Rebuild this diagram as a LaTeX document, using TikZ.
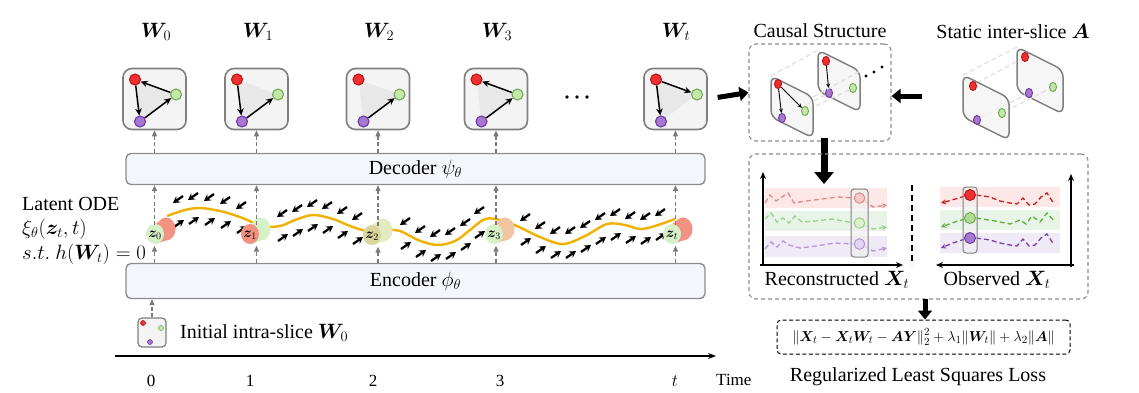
\documentclass[tikz,border=0pt]{standalone}
\usepackage{amsmath}
\usepackage{bm}
\usepackage{fontspec}
\setmainfont{Liberation Serif}
\usetikzlibrary{arrows.meta,shapes.geometric}
\definecolor{boxgray}{HTML}{7F7F7F}
\definecolor{boxfill}{HTML}{F4F4F4}
\definecolor{trifill}{HTML}{E8E8E8}
\definecolor{nred}{HTML}{F03030}
\definecolor{nredd}{HTML}{B81818}
\definecolor{ngreen}{HTML}{C6E6AE}
\definecolor{ngreend}{HTML}{6EAE4E}
\definecolor{npurple}{HTML}{A678D2}
\definecolor{npurpled}{HTML}{6E3C9E}
\definecolor{arrowgray}{HTML}{7A7A7A}
\definecolor{codergray}{HTML}{8C8C8C}
\definecolor{coderfill}{HTML}{F3F7FB}
\definecolor{curvecol}{HTML}{F0B000}
\definecolor{zgreen}{HTML}{D6F1C8}
\definecolor{zsal}{HTML}{F29282}
\definecolor{zkhaki}{HTML}{D9D59B}
\definecolor{zlime}{HTML}{E4EBC0}
\definecolor{zpeach}{HTML}{F3C4A0}
\definecolor{bandr}{HTML}{FDE7E7}
\definecolor{bandg}{HTML}{E7F4E7}
\definecolor{bandp}{HTML}{F0E9F6}
\definecolor{lr}{HTML}{E08A8A}
\definecolor{lg}{HTML}{9CCF8A}
\definecolor{lp}{HTML}{B594D6}
\definecolor{or}{HTML}{C81E1E}
\definecolor{og}{HTML}{5FAE3C}
\definecolor{op}{HTML}{7A3FB0}
\definecolor{rcr}{HTML}{F8CACA}
\definecolor{rcg}{HTML}{DDF0D0}
\definecolor{rcp}{HTML}{E4D6F2}

\newcommand\wgraph[2]{%
  \node[wbox] (#1) at (#2,99) {};
  \fill[trifill] (#2-19.5,79.5) -- (#2+21.5,94.5) -- (#2-14.5,121.5) -- cycle;
  \node[rn] (#1r) at (#2-19.5,79.5) {};
  \node[gn] (#1g) at (#2+21.5,94.5) {};
  \node[pn] (#1p) at (#2-14.5,121.5) {};
}
\newcommand\zcyl[6]{%
  \fill[#5] (#2+11,#3-5) ellipse [x radius=9.5,y radius=11.5];
  \fill[#5] (#2,#3-10) -- (#2+11,#3-16.5) -- (#2+11,#3+6.5) -- (#2,#3+10) -- cycle;
  \fill[#4] (#2,#3) ellipse [x radius=9,y radius=10];
  \node[zlab] (#1) at (#2,#3+1.5) {#6};
}

\begin{document}
\begin{tikzpicture}[x=1pt,y=-1pt,
  font=\fontsize{20}{24}\selectfont,
  wbox/.style={draw=boxgray,line width=1.6,fill=boxfill,rounded corners=9,minimum width=63,minimum height=61,inner sep=0},
  rn/.style={circle,draw=nredd,fill=nred,line width=1.1,minimum size=11,inner sep=0},
  gn/.style={circle,draw=ngreend,fill=ngreen,line width=1.1,minimum size=11,inner sep=0},
  pn/.style={circle,draw=npurpled,fill=npurple,line width=1.1,minimum size=11,inner sep=0},
  prn/.style={ellipse,draw=nredd,fill=nred,line width=1,minimum width=7,minimum height=9,inner sep=0},
  pgn/.style={ellipse,draw=ngreend,fill=ngreen,line width=1,minimum width=7,minimum height=9,inner sep=0},
  ppn/.style={ellipse,draw=npurpled,fill=npurple,line width=1,minimum width=7,minimum height=9,inner sep=0},
  warrow/.style={line width=1.5,-{Stealth[length=7,width=6.5]}},
  parrow/.style={line width=0.9,-{Stealth[length=4.5,width=4]}},
  garrow/.style={draw=arrowgray,line width=1.3,dash pattern=on 4pt off 2.5pt,-{Triangle[length=6,width=5]}},
  coder/.style={draw=codergray,line width=1.4,fill=coderfill,rounded corners=5,minimum width=579,inner sep=0},
  vec/.style={line width=2.3,-{Stealth[length=6.5,width=7.5]}},
  zlab/.style={font=\fontsize{14}{16}\selectfont,inner sep=0,minimum height=20},
  bigarrow/.style={line width=5,-{Triangle[length=9,width=14]}},
  plane/.style={draw=boxgray,line width=1.5,fill=boxfill,fill opacity=0.85,rounded corners=7},
  ghost/.style={draw=gray!25,line width=1.2,dash pattern=on 5pt off 3pt},
  dbox/.style={draw=codergray,line width=1.1,dash pattern=on 4pt off 3pt,rounded corners=7,inner sep=0},
  axis/.style={line width=1.6,-{Stealth[length=7,width=6]}},
  pl/.style={line width=1.3,dash pattern=on 5pt off 3pt},
  tipl/.style={-{Stealth[length=5,width=5]}},
  sel/.style={draw=gray,line width=1,fill=gray!12,fill opacity=0.7,rounded corners=3,inner sep=0},
  dot/.style={circle,fill=black,inner sep=0,minimum size=3.6}
]
\useasboundingbox (0,0) rectangle (1139,392);

% ---------- W graphs ----------
\wgraph{b0}{154.5}
\wgraph{b1}{256.5}
\wgraph{b2}{378}
\wgraph{b3}{496}
\wgraph{b4}{675.5}
\draw[warrow] (b0g) -- (b0r);
\draw[warrow] (b0r) -- (b0p);
\draw[warrow] (b0p) -- (b0g);
\draw[warrow] (b1r) -- (b1p);
\draw[warrow] (b1p) -- (b1g);
\draw[warrow] (b2p) -- (b2g);
\draw[warrow] (b3g) -- (b3r);
\draw[warrow] (b3p) -- (b3g);
\draw[warrow] (b4r) -- (b4g);
\draw[warrow] (b4r) -- (b4p);

\node (l0) at (156,32) {$\bm{W}_0$};
\node (l1) at (258,32) {$\bm{W}_1$};
\node (l2) at (379,32) {$\bm{W}_2$};
\node (l3) at (497,32) {$\bm{W}_3$};
\node (l4) at (676,32) {$\bm{W}_t$};

\node[dot] (d1) at (567,97) {};
\node[dot] (d2) at (577,97) {};
\node[dot] (d3) at (587,97) {};

% ---------- decoder / encoder ----------
\node[coder,minimum height=31] (dec) at (415.5,169) {Decoder $\psi_\theta$};
\node[coder,minimum height=35] (enc) at (415.5,281) {Encoder $\phi_\theta$};

% ---------- latent ODE ----------
\node[anchor=west,inner sep=0] (lode) at (22,204) {Latent ODE};
\node[anchor=west,inner sep=0] (xi) at (22,229) {$\xi_\theta(\bm{z}_t,t)$};
\node[anchor=west,inner sep=0] (st) at (22,254) {$s.t.\ h(\bm{W}_t)=0$};

\draw[curvecol,line width=2.4] plot[smooth,tension=0.55] coordinates {(167,216) (185,210) (200,208) (220,211) (240,217) (262,226) (280,226) (295,220) (313,215) (333,219) (350,226) (367,231) (385,230) (400,231) (418,240) (437,245) (455,241) (470,230) (485,219) (500,220) (517,226) (540,237) (563,244) (585,236) (607,224) (625,225) (640,229) (655,226) (675,219)};

\foreach \x/\y in {178/211,193/208,209/209,225/212,241/217,282/225,297/220,312/215,327/217,342/222,357/228,405/233,420/241,435/245,450/243,465/234,479/222,525/229,540/237,555/242,570/242,585/236,600/228,615/224,630/227,645/228,660/224}{
  \draw[vec] (\x+5,\y-15) -- (\x-5,\y-8);
  \draw[vec] (\x-4,\y+16) -- (\x+6,\y+9);
}

\zcyl{z0}{155}{234}{zgreen}{zsal}{$\bm{z}_0$}
\zcyl{z1}{250}{234}{zsal}{zgreen}{$\bm{z}_1$}
\zcyl{z2}{372}{235}{zkhaki}{zlime}{$\bm{z}_2$}
\zcyl{z3}{494}{234}{zgreen}{zpeach}{$\bm{z}_3$}
\zcyl{zt}{672}{234}{zgreen}{zsal}{$\bm{z}_t$}

\foreach \b/\z in {b0/z0,b1/z1,b2/z2,b3/z3,b4/zt}{
  \draw[garrow] (enc.north -| \b) -- (\b |- \z.south);
  \draw[garrow] (\b |- \z.north) -- (dec.south -| \b);
  \draw[garrow] (dec.north -| \b) -- (\b.south);
}

% ---------- initial ----------
\node[draw=boxgray,line width=1.2,fill=boxfill,rounded corners=4,minimum width=28,minimum height=29,inner sep=0] (init) at (152,332.5) {};
\node[circle,draw=nredd,fill=nred,line width=0.6,minimum size=5,inner sep=0] (ir) at (143,323) {};
\node[circle,draw=ngreend,fill=ngreen,line width=0.6,minimum size=5,inner sep=0] (ig) at (161,328) {};
\node[circle,draw=npurpled,fill=npurple,line width=0.6,minimum size=5,inner sep=0] (ip) at (150,342) {};
\draw[garrow] (init.north) -- (enc.south -| init);
\node[anchor=west,inner sep=0] (inittext) at (180,333) {Initial intra-slice $\bm{W}_0$};

% ---------- time axis ----------
\coordinate (ta) at (115,356);
\coordinate (tb) at (716,356);
\draw[line width=1.2,-{Stealth[length=8,width=6]}] (ta) -- (tb);
\begin{scope}[font=\fontsize{17}{20}\selectfont]
\node (t0) at (151,381) {0};
\node (t1) at (250,381) {1};
\node (t2) at (373,381) {2};
\node (t3) at (500,381) {3};
\node (tt) at (675,381) {$t$};
\node[anchor=west,inner sep=0] (time) at (716,380) {Time};
\end{scope}

% ---------- causal structure ----------
\node (ctitle) at (820,31) {Causal Structure};
\node[dbox,minimum width=142,minimum height=97] (cbox) at (820,92.5) {};
\node (stitle) at (1013,31) {Static inter-slice $\bm{A}$};

% causal planes
\coordinate (c2a) at (818,50); \coordinate (c2b) at (860,71); \coordinate (c2c) at (860,112); \coordinate (c2d) at (818,91);
\coordinate (c1a) at (771,76); \coordinate (c1b) at (813,97); \coordinate (c1c) at (813,138); \coordinate (c1d) at (771,117);
\draw[plane] (c2a) -- (c2b) -- (c2c) -- (c2d) -- cycle;
\node[prn] (c2r) at (826,61) {};
\node[pgn] (c2g) at (853,88) {};
\node[ppn] (c2p) at (829,93) {};
\draw[parrow] (c2r) -- (c2p);
\node[prn,opacity=0] (c1rg) at (778,83) {};
\node[pgn,opacity=0] (c1gg) at (805,111) {};
\node[ppn,opacity=0] (c1pg) at (782,118) {};
\draw[ghost] (c1a) -- (c2a);
\draw[ghost] (c1b) -- (c2b);
\draw[ghost] (c1gg) -- (c2g);
\draw[ghost] (c1pg) -- (c2p);
\draw[plane] (c1a) -- (c1b) -- (c1c) -- (c1d) -- cycle;
\node[prn] (c1r) at (778,84) {};
\node[pgn] (c1g) at (805,111) {};
\node[ppn] (c1p) at (782,118) {};
\draw[parrow] (c1r) -- (c1p);
\draw[parrow] (c1r) -- (c1g);
\node[dot,minimum size=3.2] (cd1) at (866,76) {};
\node[dot,minimum size=3.2] (cd2) at (874,72) {};
\node[dot,minimum size=3.2] (cd3) at (882,67) {};

% static planes
\coordinate (s2a) at (1017,47); \coordinate (s2b) at (1063,70); \coordinate (s2c) at (1063,114); \coordinate (s2d) at (1017,91);
\coordinate (s1a) at (963,75); \coordinate (s1b) at (1009,98); \coordinate (s1c) at (1009,140); \coordinate (s1d) at (963,117);
\draw[plane] (s2a) -- (s2b) -- (s2c) -- (s2d) -- cycle;
\node[prn] (s2r) at (1025,57) {};
\node[pgn] (s2g) at (1053,87) {};
\node[ppn] (s2p) at (1029,93) {};
\node[prn,opacity=0] (s1rg) at (973,85) {};
\node[pgn,opacity=0] (s1gg) at (1002,113) {};
\node[ppn,opacity=0] (s1pg) at (977,119) {};
\draw[ghost] (s1a) -- (s2a);
\draw[ghost] (s1rg) -- (s2r);
\draw[ghost] (s1gg) -- (s2g);
\draw[ghost] (s1pg) -- (s2p);
\draw[plane] (s1a) -- (s1b) -- (s1c) -- (s1d) -- cycle;
\node[prn] (s1r) at (973,86) {};
\node[pgn] (s1g) at (1002,113) {};
\node[ppn] (s1p) at (977,120) {};

% big arrows
\draw[bigarrow,shorten <=10pt] (b4.east) -- (cbox.west);
\coordinate (sarr) at (922,96);
\draw[bigarrow] (sarr) -- (cbox.east |- sarr);
\coordinate (cdn1) at (824,138);
\coordinate (cdn2) at (824,184);
\draw[line width=7,-{Triangle[length=12,width=19]}] (cdn1) -- (cdn2);

% ---------- reconstruction / observation ----------
\node[dbox,minimum width=339,minimum height=145] (pbox) at (918.5,226.5) {};

% left plot
\fill[bandr] (765,188) rectangle (887,208);
\fill[bandg] (765,211) rectangle (887,231);
\fill[bandp] (765,236) rectangle (887,257);
\draw[pl,lr] (765,203) -- (770,195) -- (776,201) -- (782,197) -- (788,193) -- (794,203) -- (806,201) -- (822,199) -- (838,197) -- (854,198);
\draw[pl,lr,tipl] (864,200) -- (873,207) -- (887,205);
\draw[pl,lg] (765,219) -- (771,213) -- (777,222) -- (783,218) -- (789,223) -- (795,216) -- (802,222) -- (815,221) -- (832,219) -- (854,223);
\draw[pl,lg,tipl] (864,225) -- (873,229) -- (887,227);
\draw[pl,lp] (765,249) -- (771,242) -- (777,247) -- (783,241) -- (789,245) -- (800,248) -- (816,246) -- (835,243) -- (854,244);
\draw[pl,lp,tipl] (864,246) -- (873,251) -- (887,248);
\node[sel,minimum width=17,minimum height=68] (sel1) at (859.5,223) {};
\node[circle,draw=lr,fill=rcr,line width=1,minimum size=10.5,inner sep=0] (rr) at (859.5,198) {};
\node[circle,draw=lg,fill=rcg,line width=1,minimum size=10.5,inner sep=0] (rg) at (859.5,223) {};
\node[circle,draw=lp,fill=rcp,line width=1,minimum size=10.5,inner sep=0] (rp) at (859.5,244) {};
\coordinate (la0) at (763,266); \coordinate (la1) at (763,172);
\coordinate (lb0) at (760,265); \coordinate (lb1) at (903,265);
\draw[axis] (la0) -- (la1);
\draw[axis] (lb0) -- (lb1);
\node (rlab) at (837,280) {Reconstructed $\bm{X}_t$};

% separator
\coordinate (sep0) at (912,185); \coordinate (sep1) at (912,265);
\draw[line width=2.2,dash pattern=on 6pt off 4pt] (sep0) -- (sep1);

% right plot
\fill[bandr] (940,187) rectangle (1060,207);
\fill[bandg] (940,210) rectangle (1060,230);
\fill[bandp] (940,233) rectangle (1060,253);
\draw[pl,or,tipl] (965,196) -- (952,200) -- (941,203);
\draw[pl,or] (976,195) -- (990,197) -- (1000,201) -- (1010,203) -- (1017,204) -- (1023,198) -- (1029,205) -- (1035,204) -- (1041,197) -- (1047,193) -- (1054,204);
\draw[pl,og,tipl] (965,219) -- (955,222) -- (941,227);
\draw[pl,og] (976,218) -- (995,221) -- (1010,224) -- (1020,220) -- (1026,224) -- (1032,216) -- (1040,222) -- (1047,213) -- (1055,222);
\draw[pl,op,tipl] (965,239) -- (953,243) -- (941,248);
\draw[pl,op] (976,238) -- (990,240) -- (1000,243) -- (1010,245) -- (1017,246) -- (1023,239) -- (1029,246) -- (1035,245) -- (1041,238) -- (1047,234) -- (1054,245);
\node[sel,minimum width=14,minimum height=66] (sel2) at (970,220) {};
\node[circle,draw=nredd,fill=nred,line width=1,minimum size=11,inner sep=0] (or1) at (970,195) {};
\node[circle,draw=ngreend,fill=ngreen!80!og,line width=1,minimum size=11,inner sep=0] (og1) at (970,218) {};
\node[circle,draw=npurpled,fill=npurple,line width=1,minimum size=11,inner sep=0] (op1) at (970,238) {};
\coordinate (ra0) at (1071,267); \coordinate (ra1) at (1071,174);
\coordinate (rb0) at (1074,265); \coordinate (rb1) at (936,265);
\draw[axis] (ra0) -- (ra1);
\draw[axis] (rb0) -- (rb1);
\node (olab) at (997,280) {Observed $\bm{X}_t$};

% ---------- loss ----------
\node[draw=black,line width=1,dash pattern=on 4pt off 2.5pt,rounded corners=4,minimum width=293,minimum height=34,inner sep=0,font=\fontsize{15}{18}\selectfont] (loss) at (923.5,337) {$\|\bm{X}_t-\bm{X}_t\bm{W}_t-\bm{A}\bm{Y}\|_2^2+\lambda_1\|\bm{W}_t\|+\lambda_2\|\bm{A}\|$};
\coordinate (ld0) at (925,299);
\draw[bigarrow] (ld0) -- (loss.north -| ld0);
\node (losscap) at (918,377) {Regularized Least Squares Loss};
\end{tikzpicture}
\end{document}
